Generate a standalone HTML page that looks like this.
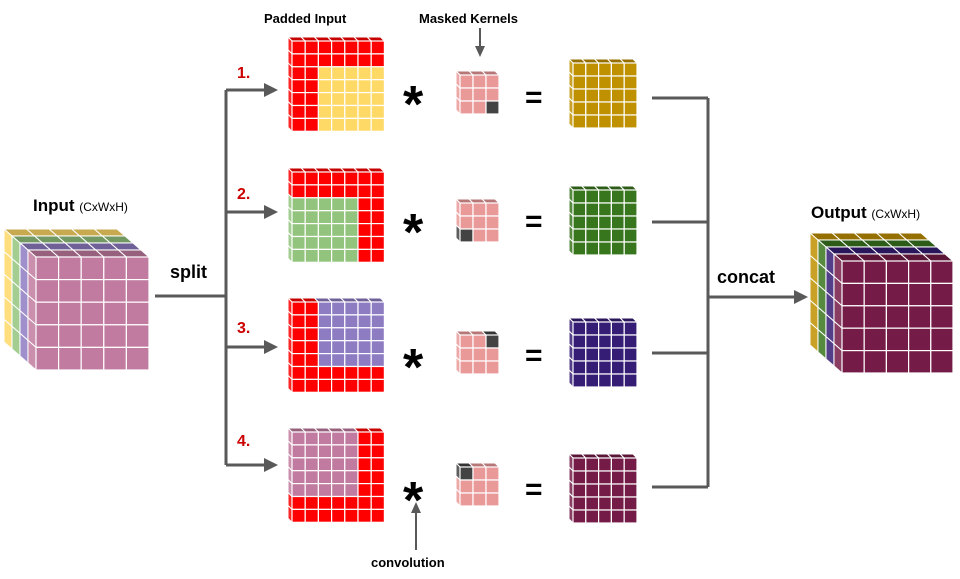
<!DOCTYPE html>
<html><head><meta charset="utf-8"><style>
html,body{margin:0;padding:0;background:#fff;width:960px;height:579px;overflow:hidden}
svg text{font-family:"Liberation Sans",Arial,sans-serif;font-weight:bold}
</style></head><body>
<svg id="s" width="960" height="579" viewBox="0 0 960 579" xmlns="http://www.w3.org/2000/svg">
<g id="shapes"></g>
<g stroke="#595959" stroke-width="3" fill="none">
<path d="M155 296 H226 M226 90 V465 M226 90 H268 M226 212 H268 M226 347 H268 M226 465 H268"/>
<path d="M652 98 H708 M652 222 H708 M652 353 H708 M652 487 H708 M708 98 V487 M708 297 H798"/>
<path d="M480 28 V50 M416 550 V510" stroke-width="2"/>
</g>
<g fill="#595959">
<polygon points="278,90 264,83 264,97"/><polygon points="278,212 264,205 264,219"/>
<polygon points="278,347 264,340 264,354"/><polygon points="278,465 264,458 264,472"/>
<polygon points="808,297 794,290 794,304"/>
<polygon points="480,57 475,46 485,46"/><polygon points="416,502 411,513 421,513"/>
</g>
<text x="33" y="211" font-size="17">Input <tspan font-size="12" font-weight="normal">(CxWxH)</tspan></text>
<text x="811" y="218" font-size="17">Output <tspan font-size="12" font-weight="normal">(CxWxH)</tspan></text>
<text x="170" y="278" font-size="18">split</text>
<text x="717" y="283" font-size="18">concat</text>
<text x="264" y="23" font-size="13">Padded Input</text>
<text x="419" y="23" font-size="13">Masked Kernels</text>
<text x="371" y="567" font-size="13">convolution</text>
<g fill="#cc0000" font-size="16"><text x="237" y="78">1.</text><text x="237" y="199">2.</text><text x="237" y="333">3.</text><text x="237" y="446">4.</text></g>
<g font-size="52"><text x="403" y="122">*</text><text x="403" y="250">*</text><text x="403" y="385">*</text><text x="403" y="518">*</text></g>
<g font-size="30"><text x="525" y="107">=</text><text x="525" y="231">=</text><text x="525" y="365">=</text><text x="525" y="499">=</text></g>
</svg>
<script>
var g=document.getElementById('shapes'),NS='http://www.w3.org/2000/svg';
function el(t,a){var e=document.createElementNS(NS,t);for(var k in a)e.setAttribute(k,a[k]);g.appendChild(e);return e;}
function shade(c,f){var n=parseInt(c.slice(1),16),r=n>>16,gg=(n>>8)&255,b=n&255;
 function m(v){return Math.max(0,Math.min(255,Math.round(f<1?v*f:v+(255-v)*(f-1))));}
 return 'rgb('+m(r)+','+m(gg)+','+m(b)+')';}
// slab: front at x,y, n cols/rows, cell w,h, depth dx,dy, colorFn(r,c)
function slab(x,y,n,cw,ch,dx,dy,col){
 var W=n*cw,H=n*ch;
 for(var c=0;c<n;c++){var cc=col(0,c);
  el('polygon',{points:[x+c*cw,y,x+(c+1)*cw,y,x+(c+1)*cw-dx,y-dy,x+c*cw-dx,y-dy].join(','),fill:shade(cc,0.78),stroke:'#fff','stroke-width':1});}
 for(var r=0;r<n;r++){var cc=col(r,0);
  el('polygon',{points:[x,y+r*ch,x-dx,y+r*ch-dy,x-dx,y+(r+1)*ch-dy,x,y+(r+1)*ch].join(','),fill:shade(cc,1.15),stroke:'#fff','stroke-width':1});}
 for(var r=0;r<n;r++)for(var c=0;c<n;c++)
  el('rect',{x:x+c*cw,y:y+r*ch,width:cw,height:ch,fill:col(r,c),stroke:'#fff','stroke-width':1.2});
}
// input cube
var inC=['#ffd966','#93c47d','#8e7cc3','#c27ba0'];
for(var k=3;k>=0;k--){var cc=inC[3-k];slab(36-8*k,257-7*k,5,22.6,22.6,8,7,function(){return cc;});}
var outC=['#bf9000','#38761d','#351c75','#741b47'];
for(var k=3;k>=0;k--){var cc=outC[3-k];slab(842-8*k,261-7*k,5,22.2,22.4,8,7,function(){return cc;});}
var R='#ff0000';
var pads=[[172-131,'#ffd966',function(r,c){return r>=2&&c>=2;}],
 [172,'#93c47d',function(r,c){return r>=2&&c<=4;}],
 [302,'#8e7cc3',function(r,c){return r<=4&&c>=2;}],
 [432,'#c27ba0',function(r,c){return r<=4&&c<=4;}]];
pads.forEach(function(p){slab(292,p[0],7,13.2,12.9,4,4,function(r,c){return p[2](r,c)?p[1]:R;});});
var ks=[[75,2,2],[203,2,0],[335,0,2],[467,0,0]];
ks.forEach(function(k){slab(460,k[0],3,13,13,4,4,function(r,c){return (r==k[1]&&c==k[2])?'#434343':'#ea9999';});});
var os=[[63,'#bf9000'],[190,'#38761d'],[322,'#351c75'],[458,'#741b47']];
os.forEach(function(o){slab(573,o[0],5,12.8,13,4,4,function(){return o[1];});});
</script>
</body></html>
